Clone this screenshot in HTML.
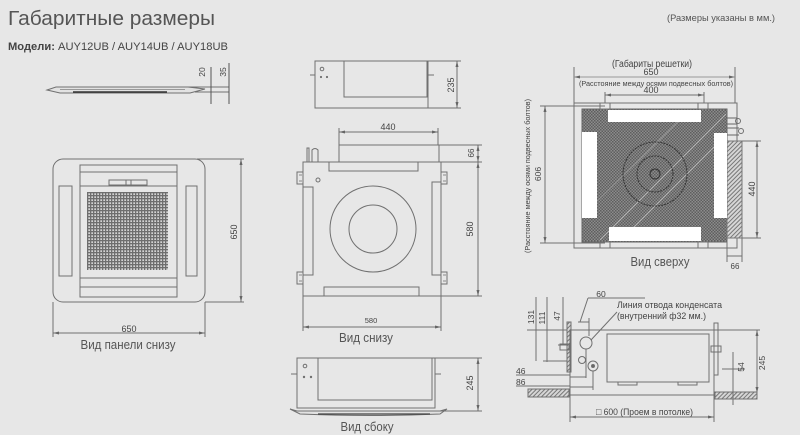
<!DOCTYPE html>
<html><head><meta charset="utf-8"><style>html,body{margin:0;padding:0;background:#e7e7e7;width:800px;height:435px;overflow:hidden}svg{display:block}</style></head><body>
<svg width="800" height="435" viewBox="0 0 800 435" xmlns="http://www.w3.org/2000/svg" font-family="'Liberation Sans', 'Noto Sans CJK SC', sans-serif">
<defs>
<pattern id="chk" width="3" height="3" patternUnits="userSpaceOnUse"><rect width="3" height="3" fill="#8c8c8c"/><rect width="1.5" height="1.5" fill="#5e5e5e"/><rect x="1.5" y="1.5" width="1.5" height="1.5" fill="#5e5e5e"/></pattern>
<pattern id="mesh" width="3" height="3" patternUnits="userSpaceOnUse"><rect width="3" height="3" fill="#d4d4d4"/><rect width="3" height="1.3" fill="#6e6e6e"/><rect width="1.3" height="3" fill="#6e6e6e"/></pattern>
<pattern id="hatch" width="3" height="3" patternUnits="userSpaceOnUse" patternTransform="rotate(45)"><rect width="3" height="3" fill="#d6d6d6"/><rect width="1" height="3" fill="#777"/></pattern>
<marker id="ar" markerWidth="6" markerHeight="4" refX="6" refY="2" orient="auto-start-reverse" markerUnits="userSpaceOnUse"><path d="M0,0.5 L6,2 L0,3.5 z" fill="#666"/></marker>
</defs>
<rect width="800" height="435" fill="#e7e7e7"/>

<!-- Header -->
<text x="8" y="25" font-size="20" fill="#555" textLength="207" lengthAdjust="spacingAndGlyphs">Габаритные размеры</text>
<text x="8" y="50" font-size="11" fill="#444" textLength="220" lengthAdjust="spacingAndGlyphs"><tspan font-weight="bold">Модели:</tspan> AUY12UB / AUY14UB / AUY18UB</text>
<text x="667" y="21" font-size="9.5" fill="#555" textLength="108" lengthAdjust="spacingAndGlyphs">(Размеры указаны в мм.)</text>

<g stroke="#707070" stroke-width="1" fill="none">
<!-- Left side panel view -->
<path d="M47,90 L56,87 L188,87 L205,89 L190,93 L60,93 Z" fill="#e2e2e2"/>
<line x1="60" y1="89.5" x2="185" y2="89.5" stroke="#999"/>
<line x1="73" y1="92" x2="167" y2="92" stroke="#333" stroke-width="1.6"/>
<line x1="188" y1="87" x2="229" y2="87"/>
<line x1="195" y1="92" x2="229" y2="92"/>
<line x1="211" y1="67" x2="211" y2="104" stroke="#555"/>
<line x1="229" y1="63" x2="229" y2="104" stroke="#555"/>

<!-- Left panel bottom view -->
<rect x="53" y="159" width="152" height="143" rx="10"/>
<rect x="80" y="165" width="97" height="132"/>
<line x1="80" y1="172" x2="177" y2="172"/>
<line x1="80" y1="186" x2="177" y2="186"/>
<rect x="109" y="180" width="38" height="5"/>
<rect x="126" y="180" width="5" height="5"/>
<rect x="87" y="192" width="81" height="78" fill="url(#mesh)" stroke="none"/>
<line x1="80" y1="278" x2="177" y2="278"/>
<line x1="80" y1="287" x2="177" y2="287"/>
<rect x="59" y="186" width="13" height="90"/>
<rect x="186" y="186" width="11" height="90"/>
<line x1="197" y1="159" x2="244" y2="159"/>
<line x1="205" y1="302" x2="244" y2="302"/>
<line x1="241" y1="159" x2="241" y2="302" marker-start="url(#ar)" marker-end="url(#ar)"/>
<line x1="53" y1="302" x2="53" y2="337"/>
<line x1="205" y1="302" x2="205" y2="337"/>
<line x1="53" y1="333" x2="205" y2="333" marker-start="url(#ar)" marker-end="url(#ar)"/>

<!-- Middle top -->
<rect x="315" y="61" width="113" height="47"/>
<rect x="344" y="61" width="83" height="36"/>
<circle cx="322" cy="69" r="1.8"/>
<circle cx="321" cy="77" r="0.6" fill="#666"/>
<circle cx="327" cy="77" r="0.6" fill="#666"/>
<line x1="310" y1="75" x2="315" y2="75"/>
<line x1="428" y1="75" x2="434" y2="75"/>
<line x1="428" y1="61" x2="461" y2="61"/>
<line x1="428" y1="108" x2="461" y2="108"/>
<line x1="457" y1="61" x2="457" y2="108" marker-start="url(#ar)" marker-end="url(#ar)"/>

<!-- Middle main bottom view -->
<line x1="339" y1="128" x2="339" y2="145"/>
<line x1="438" y1="128" x2="438" y2="145"/>
<line x1="339" y1="132" x2="438" y2="132" marker-start="url(#ar)" marker-end="url(#ar)"/>
<rect x="339" y="145" width="100" height="17"/>
<rect x="303" y="162" width="138" height="134"/>
<rect x="329" y="162" width="89" height="9"/>
<rect x="324" y="287" width="95" height="9"/>
<polyline points="303,187 313,187 313,275 303,275"/>
<polyline points="441,182 432,182 432,275 441,275"/>
<circle cx="373" cy="229" r="43"/>
<circle cx="373" cy="229" r="24"/>
<circle cx="318" cy="180" r="2"/>
<path d="M307,162 L307,148 L309,148 L309,162 M312,162 L312,150 Q315,147 318,150 L318,162"/>
<rect x="297" y="172" width="6" height="12"/>
<rect x="297" y="272" width="6" height="12"/>
<rect x="441" y="172" width="6" height="12"/>
<rect x="441" y="272" width="6" height="12"/>
<path d="M299,175 h3 M299,181 h3 M299,275 h3 M299,281 h3 M443,175 h3 M443,181 h3 M443,275 h3 M443,281 h3" stroke="#888"/>
<line x1="439" y1="145" x2="482" y2="145"/>
<line x1="441" y1="162" x2="482" y2="162"/>
<line x1="441" y1="296" x2="482" y2="296"/>
<line x1="478" y1="145" x2="478" y2="162" marker-start="url(#ar)" marker-end="url(#ar)"/>
<line x1="478" y1="162" x2="478" y2="296" marker-start="url(#ar)" marker-end="url(#ar)"/>
<line x1="303" y1="296" x2="303" y2="331"/>
<line x1="441" y1="296" x2="441" y2="331"/>
<line x1="303" y1="327" x2="441" y2="327" marker-start="url(#ar)" marker-end="url(#ar)"/>

<!-- Middle side view -->
<rect x="297" y="358" width="138" height="50"/>
<rect x="318" y="358" width="114" height="42"/>
<circle cx="305" cy="366" r="1.8"/>
<circle cx="304" cy="377" r="0.7" fill="#666"/>
<circle cx="311" cy="377" r="0.7" fill="#666"/>
<line x1="291" y1="374" x2="297" y2="374"/>
<line x1="435" y1="374" x2="441" y2="374"/>
<path d="M290,409 L297,411 L440,411 L447,409 L440,414 Q372,417 300,414 Z" fill="#e2e2e2"/>
<line x1="318" y1="414" x2="430" y2="414" stroke="#444" stroke-width="1.3"/>
<line x1="435" y1="358" x2="482" y2="358"/>
<line x1="440" y1="411" x2="482" y2="411"/>
<line x1="478" y1="358" x2="478" y2="411" marker-start="url(#ar)" marker-end="url(#ar)"/>

<!-- Right top view -->
<line x1="574" y1="67" x2="574" y2="103"/>
<line x1="735" y1="67" x2="735" y2="103"/>
<line x1="574" y1="77" x2="735" y2="77" stroke="#999" marker-start="url(#ar)" marker-end="url(#ar)"/>
<line x1="605" y1="92" x2="605" y2="108"/>
<line x1="704" y1="92" x2="704" y2="108"/>
<line x1="605" y1="95" x2="704" y2="95" marker-start="url(#ar)" marker-end="url(#ar)"/>
<rect x="574" y="103" width="163" height="145"/>
<rect x="582" y="109" width="145" height="133" fill="url(#chk)" stroke="#666"/>
<rect x="727" y="141" width="15" height="97" fill="url(#hatch)" stroke="#777"/>
<line x1="600" y1="240" x2="726" y2="114" stroke="#b8b8b8" stroke-width="1"/>
<line x1="620" y1="241" x2="726" y2="135" stroke="#b8b8b8" stroke-width="1"/>
<line x1="583" y1="215" x2="690" y2="110" stroke="#9a9a9a" stroke-width="0.8"/>
<rect x="608" y="110" width="93" height="12" fill="#fff" stroke="none"/>
<rect x="609" y="227" width="92" height="14" fill="#fff" stroke="none"/>
<rect x="582" y="132" width="15" height="86" fill="#fff" stroke="none"/>
<rect x="714" y="133" width="13" height="85" fill="#fff" stroke="none"/>
<circle cx="655" cy="174" r="32" stroke="#333" stroke-dasharray="2,1"/>
<circle cx="655" cy="174" r="18" stroke="#333" stroke-dasharray="2,1"/>
<circle cx="655" cy="174" r="5" stroke="#333"/>
<rect x="600" y="103" width="10" height="6" fill="#e7e7e7"/>
<rect x="698" y="103" width="10" height="6" fill="#e7e7e7"/>
<rect x="600" y="242" width="10" height="6" fill="#e7e7e7"/>
<rect x="698" y="242" width="10" height="6" fill="#e7e7e7"/>
<path d="M727,118 h10 M727,124 h10 M727,128 h12 M727,135 h12" stroke="#666"/>
<circle cx="738" cy="121" r="2.5"/>
<circle cx="741" cy="131" r="2.5"/>
<line x1="540" y1="106" x2="605" y2="106"/>
<line x1="540" y1="243" x2="605" y2="243"/>
<line x1="545" y1="106" x2="545" y2="243" marker-start="url(#ar)" marker-end="url(#ar)"/>
<line x1="742" y1="141" x2="761" y2="141"/>
<line x1="742" y1="238" x2="761" y2="238"/>
<line x1="757" y1="141" x2="757" y2="238" marker-start="url(#ar)" marker-end="url(#ar)"/>
<line x1="727" y1="240" x2="727" y2="262"/>
<line x1="742" y1="238" x2="742" y2="262"/>
<line x1="727" y1="256" x2="742" y2="256"/>

<!-- Right bottom install view -->
<line x1="536" y1="297" x2="536" y2="361"/>
<line x1="547" y1="297" x2="547" y2="362"/>
<line x1="563" y1="297" x2="563" y2="345"/>
<line x1="527" y1="330" x2="760" y2="330"/>
<line x1="543" y1="361" x2="570" y2="361"/>
<line x1="558" y1="345" x2="570" y2="345"/>
<rect x="567" y="322" width="4" height="50" fill="url(#hatch)"/>
<rect x="560" y="344" width="9" height="6"/>
<rect x="570" y="330" width="144" height="65"/>
<rect x="607" y="334" width="102" height="48"/>
<rect x="618" y="382" width="19" height="3"/>
<rect x="678" y="382" width="19" height="3"/>
<circle cx="586" cy="343" r="6"/>
<circle cx="582" cy="360" r="3.5"/>
<circle cx="593" cy="366" r="5"/>
<circle cx="593" cy="366" r="1.5" fill="#666"/>
<line x1="586" y1="349" x2="586" y2="378"/>
<line x1="593" y1="371" x2="593" y2="390"/>
<line x1="570" y1="377" x2="586" y2="377"/>
<line x1="570" y1="387" x2="593" y2="387"/>
<line x1="580" y1="322" x2="588" y2="298"/>
<line x1="588" y1="298" x2="645" y2="298"/>
<line x1="578" y1="322" x2="589" y2="322"/>
<line x1="589" y1="318" x2="589" y2="336"/>
<line x1="617" y1="312" x2="591" y2="340"/>
<line x1="516" y1="375" x2="570" y2="375"/>
<line x1="516" y1="386" x2="570" y2="386"/>
<rect x="528" y="389" width="41" height="8" fill="url(#hatch)"/>
<rect x="715" y="392" width="42" height="7" fill="url(#hatch)"/>
<rect x="714" y="323" width="4" height="52"/>
<rect x="711" y="346" width="10" height="6"/>
<line x1="714" y1="395" x2="714" y2="422"/>
<line x1="570" y1="395" x2="570" y2="422"/>
<line x1="570" y1="417" x2="714" y2="417" marker-start="url(#ar)" marker-end="url(#ar)"/>
<line x1="733" y1="352" x2="733" y2="405"/>
<line x1="722" y1="369" x2="745" y2="369"/>
<line x1="757" y1="330" x2="757" y2="393" marker-start="url(#ar)" marker-end="url(#ar)"/>
</g>

<!-- Texts -->
<g fill="#444" font-size="9">
<text transform="rotate(-90 202 72)" x="202" y="75" text-anchor="middle" font-size="8.5">20</text>
<text transform="rotate(-90 223 72)" x="223" y="75" text-anchor="middle" font-size="8.5">35</text>
<text transform="rotate(-90 234 232)" x="234" y="235" text-anchor="middle">650</text>
<text x="129" y="332" text-anchor="middle">650</text>
<text x="128" y="349" text-anchor="middle" font-size="13" fill="#555" textLength="95" lengthAdjust="spacingAndGlyphs">Вид панели снизу</text>

<text transform="rotate(-90 451 85)" x="451" y="88" text-anchor="middle">235</text>
<text x="388" y="130" text-anchor="middle">440</text>
<text transform="rotate(-90 471 153)" x="471" y="156" text-anchor="middle" font-size="8">66</text>
<text transform="rotate(-90 470 229)" x="470" y="232" text-anchor="middle">580</text>
<text x="371" y="323" text-anchor="middle" font-size="7.5">580</text>
<text x="366" y="342" text-anchor="middle" font-size="13" fill="#555" textLength="54" lengthAdjust="spacingAndGlyphs">Вид снизу</text>
<text transform="rotate(-90 470 383)" x="470" y="386" text-anchor="middle">245</text>
<text x="367" y="431" text-anchor="middle" font-size="13" fill="#555" textLength="53" lengthAdjust="spacingAndGlyphs">Вид сбоку</text>

<text x="652" y="67" text-anchor="middle" font-size="10" textLength="80" lengthAdjust="spacingAndGlyphs">(Габариты решетки)</text>
<text x="651" y="75" text-anchor="middle" font-size="9">650</text>
<text x="656" y="86" text-anchor="middle" font-size="7.5" textLength="154" lengthAdjust="spacingAndGlyphs">(Расстояние между осями подвесных болтов)</text>
<text x="651" y="93" text-anchor="middle" font-size="9">400</text>
<text transform="rotate(-90 538 174)" x="538" y="177" text-anchor="middle" font-size="8.5">606</text>
<text transform="rotate(-90 527 176)" x="527" y="179" text-anchor="middle" font-size="7.5" textLength="154" lengthAdjust="spacingAndGlyphs">(Расстояние между осями подвесных болтов)</text>
<text transform="rotate(-90 752 189)" x="752" y="192" text-anchor="middle" font-size="9">440</text>
<text x="735" y="269" text-anchor="middle" font-size="8">66</text>
<text x="660" y="266" text-anchor="middle" font-size="13" fill="#555" textLength="59" lengthAdjust="spacingAndGlyphs">Вид сверху</text>

<text x="601" y="297" text-anchor="middle" font-size="8.5">60</text>
<text x="617" y="308" font-size="9.5" textLength="105" lengthAdjust="spacingAndGlyphs">Линия отвода конденсата</text>
<text x="617" y="319" font-size="9.5" textLength="89" lengthAdjust="spacingAndGlyphs">(внутренний ф32 мм.)</text>
<text transform="rotate(-90 531 317)" x="531" y="320" text-anchor="middle" font-size="8.5">131</text>
<text transform="rotate(-90 542 318)" x="542" y="321" text-anchor="middle" font-size="8.5">111</text>
<text transform="rotate(-90 557 316)" x="557" y="319" text-anchor="middle" font-size="8.5">47</text>
<text x="516" y="374" font-size="8.5">46</text>
<text x="516" y="385" font-size="8.5">86</text>
<text transform="rotate(-90 741 367)" x="741" y="370" text-anchor="middle" font-size="8.5">54</text>
<text transform="rotate(-90 762 363)" x="762" y="366" text-anchor="middle" font-size="8.5">245</text>
<text x="596" y="415" font-size="9.5" textLength="97" lengthAdjust="spacingAndGlyphs">□ 600 (Проем в потолке)</text>
</g>
</svg>
</body></html>
